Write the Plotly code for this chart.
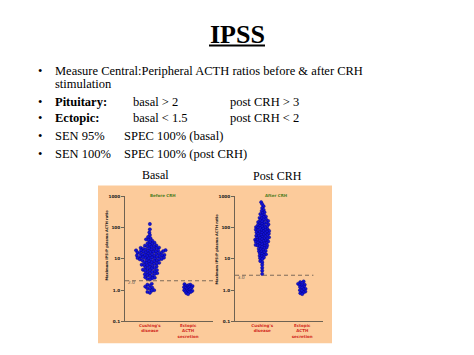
import numpy as np
import plotly.graph_objects as go

# The page body has an 8px margin, so the figure is drawn 8px smaller and
# every reference pixel coordinate is shifted by that margin.
PAGE_W, PAGE_H, BODY = 474, 355, 8
W, H = PAGE_W - BODY, PAGE_H - BODY

# ---------------- data ----------------
categories = ["Cushing's<br>disease", "Ectopic<br>ACTH<br>secretion"]
y_ticks = [0.1, 1, 10, 100, 1000]
y_tick_labels = ["0.1", "1.0", "10", "100", "1000"]

cushing_basal = [
    130, 88, 70, 58,
    50, 46,
    42, 40, 38,
    34, 33, 31.5, 30,
    28, 27, 26.5, 25.5, 25, 24,
    23, 22.5, 22, 21.5, 21, 20.5, 20, 19.5,
    19, 18.8, 18.5, 18.2, 18, 17.6, 17.3, 17, 16.7, 16.4,
    16, 15.7, 15.4, 15.1, 14.8, 14.5, 14.2, 14, 13.7, 13.4, 13.1,
    12.9, 12.7, 12.5, 12.3, 12.1, 11.9, 11.7, 11.5, 11.3, 11.1, 10.9,
    10.7, 10.5, 10.3, 10.1, 9.9, 9.7, 9.5, 9.3, 9.1, 8.9,
    8.7, 8.4, 8.1, 7.9, 7.7, 7.5, 7.3, 7.1, 6.9,
    6.7, 6.5, 6.3, 6.1, 5.9, 5.7, 5.5, 5.3,
    5.1, 4.9, 4.7, 4.5, 4.4, 4.3, 4.1,
    4.0, 3.8, 3.7, 3.5, 3.4, 3.3,
    3.2, 3.0, 2.9, 2.8, 2.6,
    2.5, 2.4, 2.3, 2.2,
    1.6, 1.5, 1.4, 1.3, 1.2, 1.15, 1.1, 1.0, 0.95, 0.88, 0.82,
]
ectopic_basal = [1.55, 1.5, 1.45, 1.4, 1.35, 1.3, 1.28, 1.25, 1.2, 1.18, 1.15,
                 1.1, 1.05, 1.0, 0.98, 0.95, 0.92, 0.9, 0.88, 0.85, 0.8, 0.75]

cushing_post = [
    650, 560, 480, 420,
    370, 340, 310, 290,
    270, 255, 240,
    225, 215, 205, 195,
    185, 178, 170, 163, 157,
    150, 145, 140, 135, 130, 126,
    122, 118, 114, 110, 107, 104,
    101, 98, 95, 92, 89, 86, 84,
    82, 80, 78, 76, 74, 72, 70,
    68, 66, 64, 62, 60, 58, 57,
    55, 53, 52, 50, 49, 47, 46,
    45, 44, 42, 41, 40, 39, 38,
    37, 36, 35, 34, 33, 32,
    31, 30, 29, 28, 27, 26.5,
    26, 25, 24, 23, 22,
    21, 20, 19, 18,
    17.5, 17, 16, 15,
    14.5, 14, 13,
    12.5, 12, 11,
    10.5, 9.8,
    8.5, 7.8,
    6.5, 5.2, 4.2, 3.3,
]
ectopic_post = [1.9, 1.8, 1.7, 1.6, 1.5, 1.45, 1.4, 1.3, 1.25, 1.2, 1.1,
                1.05, 1.0, 0.95, 0.9, 0.85, 0.8, 0.75]

cutoff_basal = 2.0
cutoff_post = 3.0


# ---------------- layout helpers ----------------
def px(x):
    return (x - BODY) / W


def py(y):
    return 1 - (y - BODY) / H


def swarm(values, center, ppd, ppu, d=3.0):
    """Beeswarm offsets: place each point as close to the centre as possible without overlap."""
    ys = np.log10(np.asarray(values, dtype=float)) * ppd
    xs = np.zeros(len(ys))
    placed = []
    for i in np.argsort(ys):
        y = ys[i]
        iv = []
        for (qx, qy) in placed:
            dy = abs(qy - y)
            if dy < d:
                w = np.sqrt(d * d - dy * dy)
                iv.append((qx - w, qx + w))
        cands = [0.0] + [a for a, b in iv] + [b for a, b in iv]
        cands.sort(key=lambda c: (abs(c), c))
        for c in cands:
            if all(not (a + 1e-6 < c < b - 1e-6) for a, b in iv):
                xs[i] = c
                break
        placed.append((xs[i], y))
    return center + xs / ppu


PPD = 31.75  # pixels per decade
L_PPU = 88 / 2.3
R_PPU = 88 / 2.2

axc = "#6e6252"
dot = "#1414d8"
red = "#d22b1f"
green = "#4f7d1e"
tick_font = dict(size=4.2, color="#222222", family="DejaVu Sans")

fig = go.Figure()

marker = dict(size=3.3, color=dot, line=dict(color="#00007a", width=0.4))

fig.add_trace(go.Scatter(x=swarm(cushing_basal, 0, PPD, L_PPU, 2.65), y=cushing_basal, mode="markers",
                         marker=marker, xaxis="x", yaxis="y"))
fig.add_trace(go.Scatter(x=swarm(ectopic_basal, 1, PPD, L_PPU, 1.9), y=ectopic_basal, mode="markers",
                         marker=marker, xaxis="x", yaxis="y"))
fig.add_trace(go.Scatter(x=swarm(cushing_post, 0, PPD, R_PPU, 2.3), y=cushing_post, mode="markers",
                         marker=marker, xaxis="x2", yaxis="y2"))
fig.add_trace(go.Scatter(x=swarm(ectopic_post, 1, PPD, R_PPU, 2.1), y=ectopic_post, mode="markers",
                         marker=marker, xaxis="x2", yaxis="y2"))

# cut-off lines
fig.add_trace(go.Scatter(x=[-0.65, 1.65], y=[cutoff_basal, cutoff_basal], mode="lines",
                         line=dict(color="#5a5248", width=0.8, dash="4px,3px"), xaxis="x", yaxis="y"))
fig.add_trace(go.Scatter(x=[-0.68, 1.28], y=[cutoff_post, cutoff_post], mode="lines",
                         line=dict(color="#5a5248", width=0.8, dash="4px,3px"), xaxis="x2", yaxis="y2"))
fig.add_trace(go.Scatter(x=[-0.58], y=[cutoff_basal], mode="text", text=["2.0"],
                         textposition="bottom right", textfont=dict(size=4.5, color="#555", family="DejaVu Sans"),
                         xaxis="x", yaxis="y"))
fig.add_trace(go.Scatter(x=[-0.62], y=[cutoff_post], mode="text", text=["3.0"],
                         textposition="bottom right", textfont=dict(size=4.5, color="#555", family="DejaVu Sans"),
                         xaxis="x2", yaxis="y2"))


def xax(domain, rng):
    return dict(domain=domain, range=rng, tickvals=[0, 1],
                ticktext=["<b>%s</b>" % c.replace("<br>", "</b><br><b>") for c in categories],
                showline=True, linecolor=axc, linewidth=1, showgrid=False, zeroline=False, ticks="",
                tickfont=dict(size=4, color=red, family="DejaVu Sans"), fixedrange=True)


def yax(domain, anchor):
    return dict(domain=domain, type="log", range=[-1, 3], tickvals=y_ticks,
                ticktext=["<b>%s</b>" % t for t in y_tick_labels], ticks="outside", ticklen=3,
                tickcolor=axc, tickwidth=1, showline=True, linecolor=axc, linewidth=1,
                showgrid=False, zeroline=False, tickfont=tick_font, anchor=anchor, fixedrange=True)


fig.update_layout(
    width=W, height=H, autosize=False,
    margin=dict(l=0, r=0, t=0, b=0),
    paper_bgcolor="white", plot_bgcolor="rgba(0,0,0,0)",
    showlegend=False,
    xaxis=dict(xax([px(125), px(213)], [-0.65, 1.65]), anchor="y"),
    yaxis=yax([py(323), py(196)], "x"),
    xaxis2=dict(xax([px(235), px(323)], [-0.68, 1.52]), anchor="y2"),
    yaxis2=yax([py(323), py(196)], "x2"),
)

# orange panel background
fig.add_shape(type="rect", xref="paper", yref="paper", x0=px(98), x1=px(332), y0=py(345), y1=py(185),
              fillcolor="#fccb9b", line=dict(width=0), layer="below")
# title underline
fig.add_shape(type="line", xref="paper", yref="paper", x0=px(209), x1=px(265), y0=py(43), y1=py(43),
              line=dict(color="black", width=2))

serif = "Liberation Serif"


def txt(x, y, s, size=13, anchor="left", bold=False, color="black", family=serif, angle=0):
    fig.add_annotation(xref="paper", yref="paper", x=px(x), y=py(y), text=("<b>%s</b>" % s) if bold else s,
                       showarrow=False, xanchor=anchor, yanchor="middle", textangle=angle,
                       font=dict(size=size, color=color, family=family), borderpad=0)


txt(237, 32, "IPSS", size=26, anchor="center", bold=True)

bx, tx = 40, 54
for r in [68.5, 100, 117, 135, 153]:
    txt(bx, r, "•", size=12.5, anchor="center")
txt(tx, 68.5, "Measure Central:Peripheral ACTH ratios before & after CRH", size=12.5)
txt(tx, 82.5, "stimulation", size=12.5)
txt(tx, 100, "Pituitary:", bold=True, size=12.5)
txt(132, 100, "basal &gt; 2", size=12.5)
txt(229, 100, "post CRH &gt; 3", size=12.5)
txt(tx, 117, "Ectopic:", bold=True, size=12.5)
txt(132, 117, "basal &lt; 1.5", size=12.5)
txt(229, 117, "post CRH &lt; 2", size=12.5)
txt(tx, 135, "SEN 95%", size=12.5)
txt(123, 135, "SPEC 100% (basal)", size=12.5)
txt(tx, 153, "SEN 100%", size=12.5)
txt(123, 153, "SPEC 100% (post CRH)", size=12.5)

txt(155, 174, "Basal", size=12, anchor="center")
txt(277, 175, "Post CRH", size=12, anchor="center")

txt(163, 195, "Before CRH", size=4, anchor="center", bold=True, color=green, family="DejaVu Sans")
txt(276, 195, "After CRH", size=4, anchor="center", bold=True, color=green, family="DejaVu Sans")

ylab = "Maximum IPS:P plasma ACTH ratio"
txt(107, 246, ylab, size=3.6, anchor="center", bold=True, color="#222222", family="DejaVu Sans", angle=-90)
txt(217, 250, ylab, size=3.6, anchor="center", bold=True, color="#222222", family="DejaVu Sans", angle=-90)

fig.write_html("out.html")
